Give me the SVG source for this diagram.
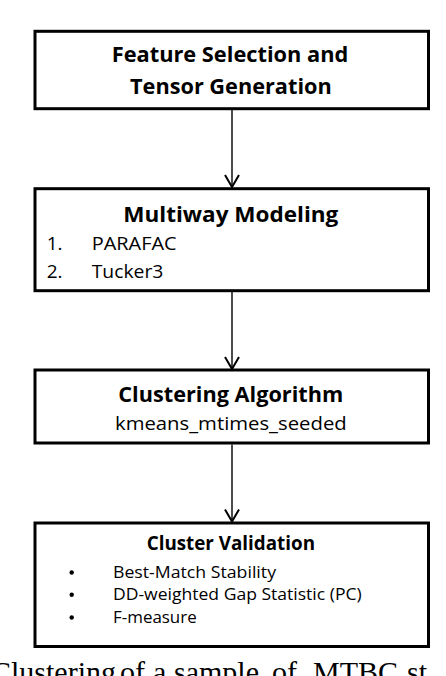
<svg xmlns="http://www.w3.org/2000/svg" width="446" height="676" viewBox="0 0 446 676">
<style>
.box{fill:#fff;stroke:#000;stroke-width:3}
.t{font-family:"Open Sans","Noto Sans","Liberation Sans",sans-serif;fill:#000}
.b{font-weight:bold;font-size:22px}
.r{font-size:19px}
.s{font-size:17px}
.cap{font-family:"Liberation Serif","Times New Roman",serif;font-size:30px;fill:#000}
.conn{stroke:#000;stroke-width:1.4;fill:none}
</style>
<defs>
<marker id="arr" viewBox="-1 -8 15 16" refX="12" refY="0" markerWidth="15" markerHeight="16" markerUnits="userSpaceOnUse" orient="auto">
<path d="M0,-7 L12,0 L0,7" fill="none" stroke="#000" stroke-width="2"/>
</marker>
</defs>
<rect width="446" height="676" fill="#fff"/>
<g id="connectors">
<line class="conn" x1="232" y1="110" x2="232" y2="187" marker-end="url(#arr)"/>
<line class="conn" x1="232" y1="292" x2="232" y2="369" marker-end="url(#arr)"/>
<line class="conn" x1="232" y1="444.5" x2="232" y2="521.5" marker-end="url(#arr)"/>
</g>
<g id="feature-selection">
<rect class="box" x="35" y="31.3" width="393.5" height="77.4"/>
<text class="t b" x="111.7" y="62.3" textLength="236.6" lengthAdjust="spacingAndGlyphs">Feature Selection and</text>
<text class="t b" x="130" y="94.3" textLength="201.7" lengthAdjust="spacingAndGlyphs">Tensor Generation</text>
</g>
<g id="multiway-modeling">
<rect class="box" x="35" y="188.7" width="393.5" height="102"/>
<text class="t b" x="123.3" y="221.7" textLength="215" lengthAdjust="spacingAndGlyphs">Multiway Modeling</text>
<text class="t r" x="46.7" y="250">1.</text>
<text class="t r" x="91.7" y="250" textLength="85" lengthAdjust="spacingAndGlyphs">PARAFAC</text>
<text class="t r" x="46.7" y="277.7">2.</text>
<text class="t r" x="91.7" y="277.7" textLength="71.7" lengthAdjust="spacingAndGlyphs">Tucker3</text>
</g>
<g id="clustering-algorithm">
<rect class="box" x="35" y="370" width="393.5" height="73"/>
<text class="t b" x="118.3" y="401.7" textLength="225" lengthAdjust="spacingAndGlyphs">Clustering Algorithm</text>
<text class="t r" x="115" y="430" textLength="231.7" lengthAdjust="spacingAndGlyphs">kmeans_mtimes_seeded</text>
</g>
<g id="cluster-validation">
<rect class="box" x="35" y="523" width="393.5" height="123.5"/>
<text class="t b" style="font-size:19px" x="146.7" y="550" textLength="168.3" lengthAdjust="spacingAndGlyphs">Cluster Validation</text>
<circle cx="71.7" cy="572.5" r="2.2"/>
<circle cx="71.7" cy="594.8" r="2.2"/>
<circle cx="71.7" cy="617.5" r="2.2"/>
<text class="t s" x="113" y="578" textLength="163" lengthAdjust="spacingAndGlyphs">Best-Match Stability</text>
<text class="t s" x="113" y="600.3" textLength="248.7" lengthAdjust="spacingAndGlyphs">DD-weighted Gap Statistic (PC)</text>
<text class="t s" x="113" y="623" textLength="83.7" lengthAdjust="spacingAndGlyphs">F-measure</text>
</g>
<text class="cap" y="682"><tspan x="-9">Clustering</tspan><tspan x="120">of</tspan><tspan x="153">a</tspan><tspan x="174">sample</tspan><tspan x="272">of</tspan><tspan x="313">MTBC</tspan><tspan x="407">st</tspan></text>
</svg>
